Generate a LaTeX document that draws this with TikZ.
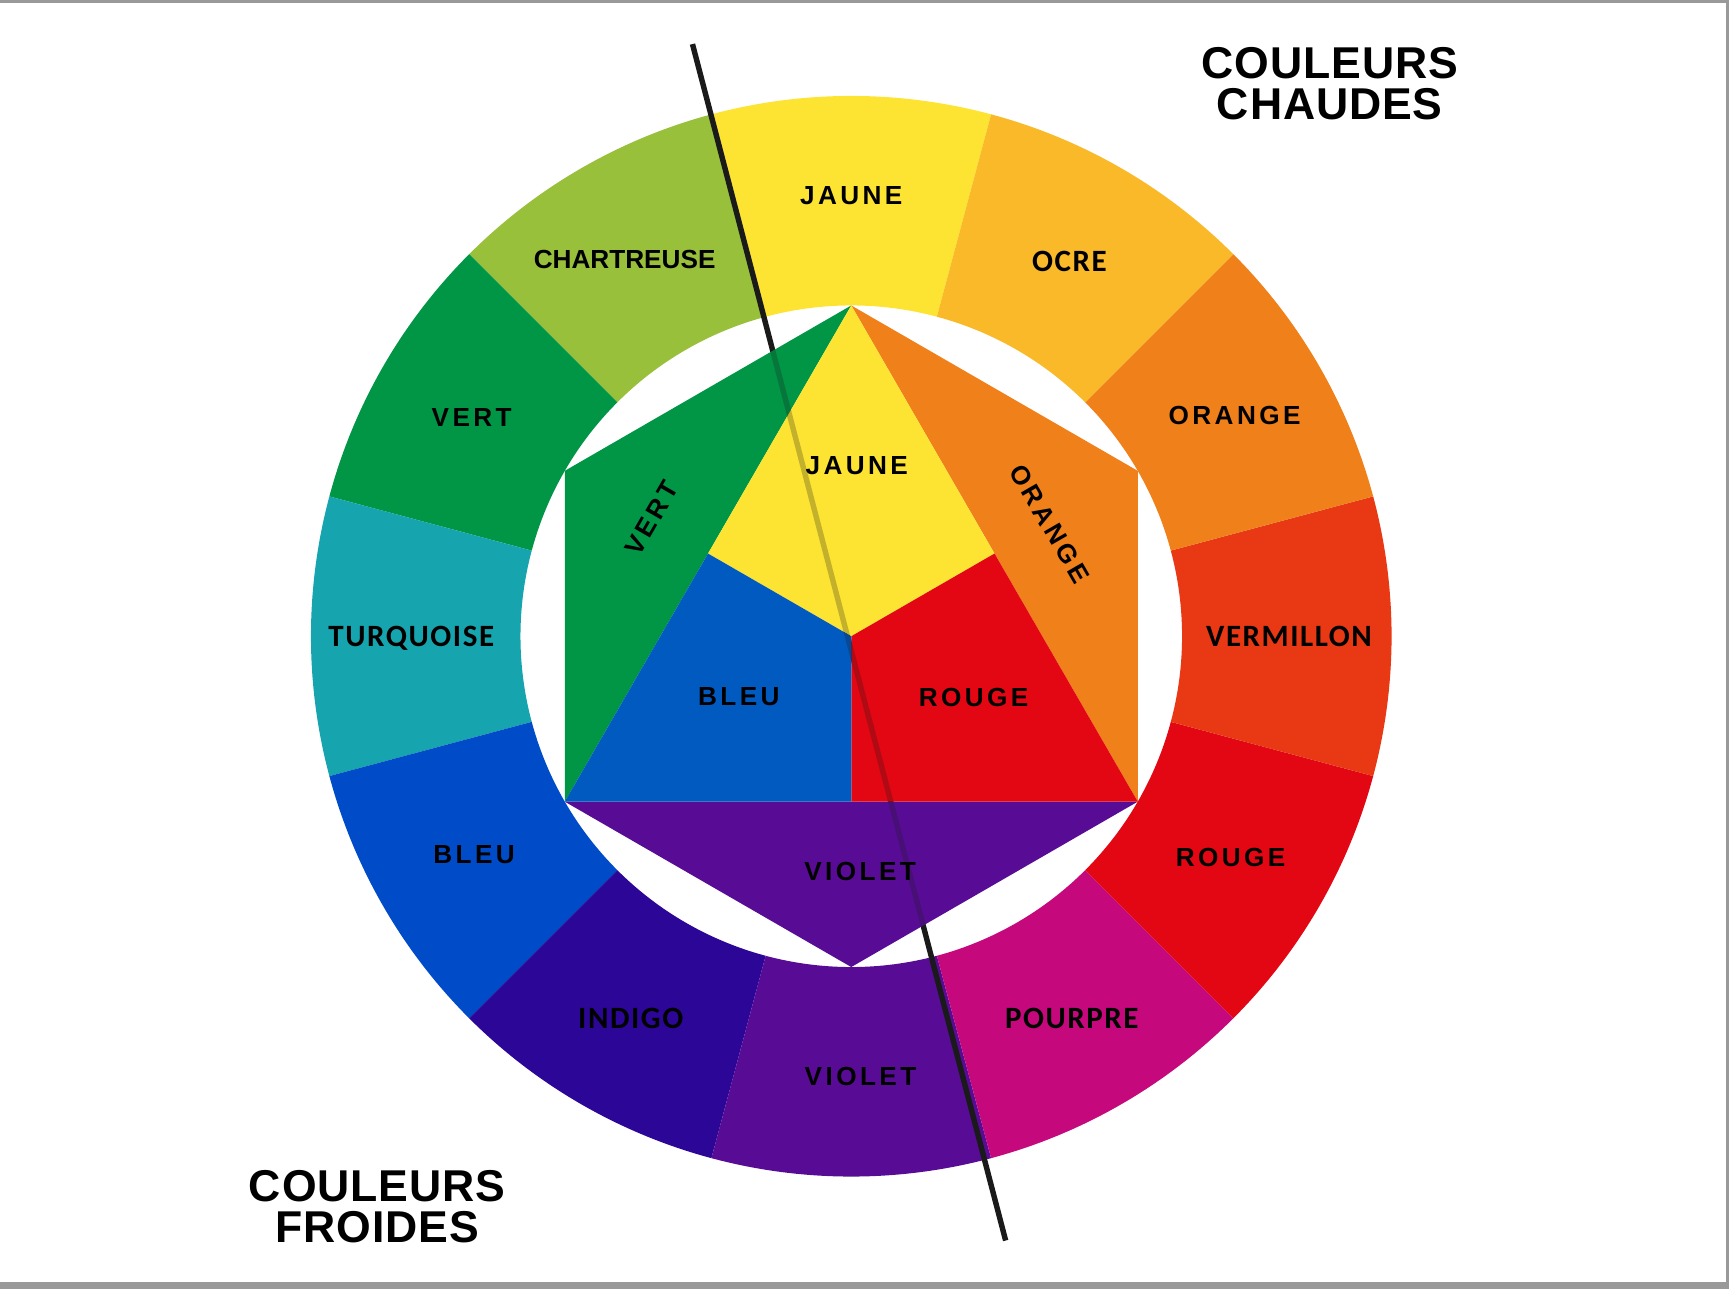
\documentclass[tikz,border=0pt]{standalone}
\usepackage{fontspec}
\setmainfont{Liberation Sans}
\newfontfamily\largefont{Liberation Sans}[LetterSpace=13]
\newfontfamily\serrefont{Carlito}[LetterSpace=5]
\newfontfamily\titrefont{Liberation Sans}[LetterSpace=2]
\definecolor{gris}{HTML}{999999}
\definecolor{noirtrait}{HTML}{1A1A1A}
\definecolor{jaune}{HTML}{FDE432}
\definecolor{ocre}{HTML}{F9B928}
\definecolor{orange}{HTML}{F0801A}
\definecolor{vermillon}{HTML}{E83814}
\definecolor{rouge}{HTML}{E30613}
\definecolor{pourpre}{HTML}{C5087B}
\definecolor{violet}{HTML}{580C96}
\definecolor{indigo}{HTML}{2C0696}
\definecolor{bleu}{HTML}{004BC8}
\definecolor{bleuint}{HTML}{015ABF}
\definecolor{turquoise}{HTML}{16A5AF}
\definecolor{vert}{HTML}{009646}
\definecolor{chartreuse}{HTML}{98C03A}
\tikzset{
  etiq/.style={font=\largefont\bfseries\fontsize{13.5}{16}\selectfont, inner sep=0pt, text depth=0pt},
  etiqserre/.style={font=\serrefont\bfseries\fontsize{16}{19}\selectfont, inner sep=0pt, text depth=0pt},
  etiqsimple/.style={font=\bfseries\fontsize{13.5}{16}\selectfont, inner sep=0pt, text depth=0pt},
  titre/.style={font=\titrefont\bfseries\fontsize{23}{21.3}\selectfont, align=center, inner sep=0pt},
  trait/.style={draw=noirtrait, line width=2.8pt}
}
\begin{document}
\begin{tikzpicture}
\useasboundingbox (-15.44,-11.84) rectangle (15.92,11.54);
% cadre
\fill[gris] (-15.44,11.49) rectangle (15.92,11.54);
\fill[gris] (15.87,-11.84) rectangle (15.92,11.54);
\fill[gris] (-15.44,-11.84) rectangle (15.92,-11.72);
% couronne
\fill[jaune] (75:9.8) arc (75:105:9.8) -- (105:6) arc (105:75:6) -- cycle;
\fill[chartreuse] (105:9.8) arc (105:135:9.8) -- (135:6) arc (135:105:6) -- cycle;
\fill[vert] (135:9.8) arc (135:165:9.8) -- (165:6) arc (165:135:6) -- cycle;
\fill[turquoise] (165:9.8) arc (165:195:9.8) -- (195:6) arc (195:165:6) -- cycle;
\fill[bleu] (195:9.8) arc (195:225:9.8) -- (225:6) arc (225:195:6) -- cycle;
\fill[indigo] (225:9.8) arc (225:255:9.8) -- (255:6) arc (255:225:6) -- cycle;
\fill[violet] (255:9.8) arc (255:285:9.8) -- (285:6) arc (285:255:6) -- cycle;
\fill[pourpre] (285:9.8) arc (285:315:9.8) -- (315:6) arc (315:285:6) -- cycle;
\fill[rouge] (315:9.8) arc (315:345:9.8) -- (345:6) arc (345:315:6) -- cycle;
\fill[vermillon] (345:9.8) arc (345:375:9.8) -- (375:6) arc (375:345:6) -- cycle;
\fill[orange] (15:9.8) arc (15:45:9.8) -- (45:6) arc (45:15:6) -- cycle;
\fill[ocre] (45:9.8) arc (45:75:9.8) -- (75:6) arc (75:45:6) -- cycle;
\node[etiq] (jauneext) at (90:8) {JAUNE};
\node[etiqsimple] (chartreuseext) at (121:7.98) {CHARTREUSE};
\node[etiq] (vertext) at (150:7.95) {VERT};
\node[etiqserre] (turquoiseext) at (180:7.98) {TURQUOISE};
\node[etiq] (bleuext) at (210:7.9) {BLEU};
\node[etiqserre] (indigoext) at (240:8) {INDIGO};
\node[etiq] (violetext) at (-88.8:7.98) {VIOLET};
\node[etiqserre] (pourpreext) at (300:8) {POURPRE};
\node[etiq] (rougeext) at (-30.2:7.96) {ROUGE};
\node[etiqserre] (vermillonext) at (0:7.94) {VERMILLON};
\node[etiq] (orangeext) at (29.9:8.02) {ORANGE};
\node[etiqserre] (ocreext) at (59.8:7.87) {OCRE};
% ligne de partage
\coordinate (haut) at (-2.88,10.74);
\coordinate (bas) at (2.80,-10.96);
\draw[trait] (haut) -- (bas);
% hexagone
\coordinate (s) at (90:6);
\coordinate (hd) at (30:6);
\coordinate (bd) at (-30:6);
\coordinate (b) at (-90:6);
\coordinate (bg) at (210:6);
\coordinate (hg) at (150:6);
\coordinate (o) at (0,0);
\coordinate (md) at (30:3);
\coordinate (mg) at (150:3);
\coordinate (mb) at (-90:3);
\fill[vert] (s) -- (hg) -- (bg) -- cycle;
\fill[orange] (s) -- (hd) -- (bd) -- cycle;
\fill[violet] (bg) -- (b) -- (bd) -- cycle;
\fill[jaune] (s) -- (md) -- (o) -- (mg) -- cycle;
\fill[rouge] (o) -- (md) -- (bd) -- (mb) -- cycle;
\fill[bleuint] (o) -- (mb) -- (bg) -- (mg) -- cycle;
\begin{scope}
  \clip (s) -- (hd) -- (bd) -- (b) -- (bg) -- (hg) -- cycle;
  \draw[trait, opacity=0.25] (haut) -- (bas);
\end{scope}
\node[etiq] (jauneint) at (0.1,3.1) {JAUNE};
\node[etiq] (bleuint) at (-2.04,-1.1) {BLEU};
\node[etiq] (rougeint) at (2.22,-1.1) {ROUGE};
\node[etiq] (violetint) at (0.16,-4.26) {VIOLET};
\node[etiq, rotate=60] (vertint) at (-3.62,2.14) {VERT};
\node[etiq, rotate=-60] (orangeint) at (3.6,2.04) {ORANGE};
% titres
\node[titre] (chaudes) at (8.68,10.02) {COULEURS\\CHAUDES};
\node[titre] (froides) at (-8.6,-10.35) {COULEURS\\FROIDES};
\end{tikzpicture}
\end{document}
